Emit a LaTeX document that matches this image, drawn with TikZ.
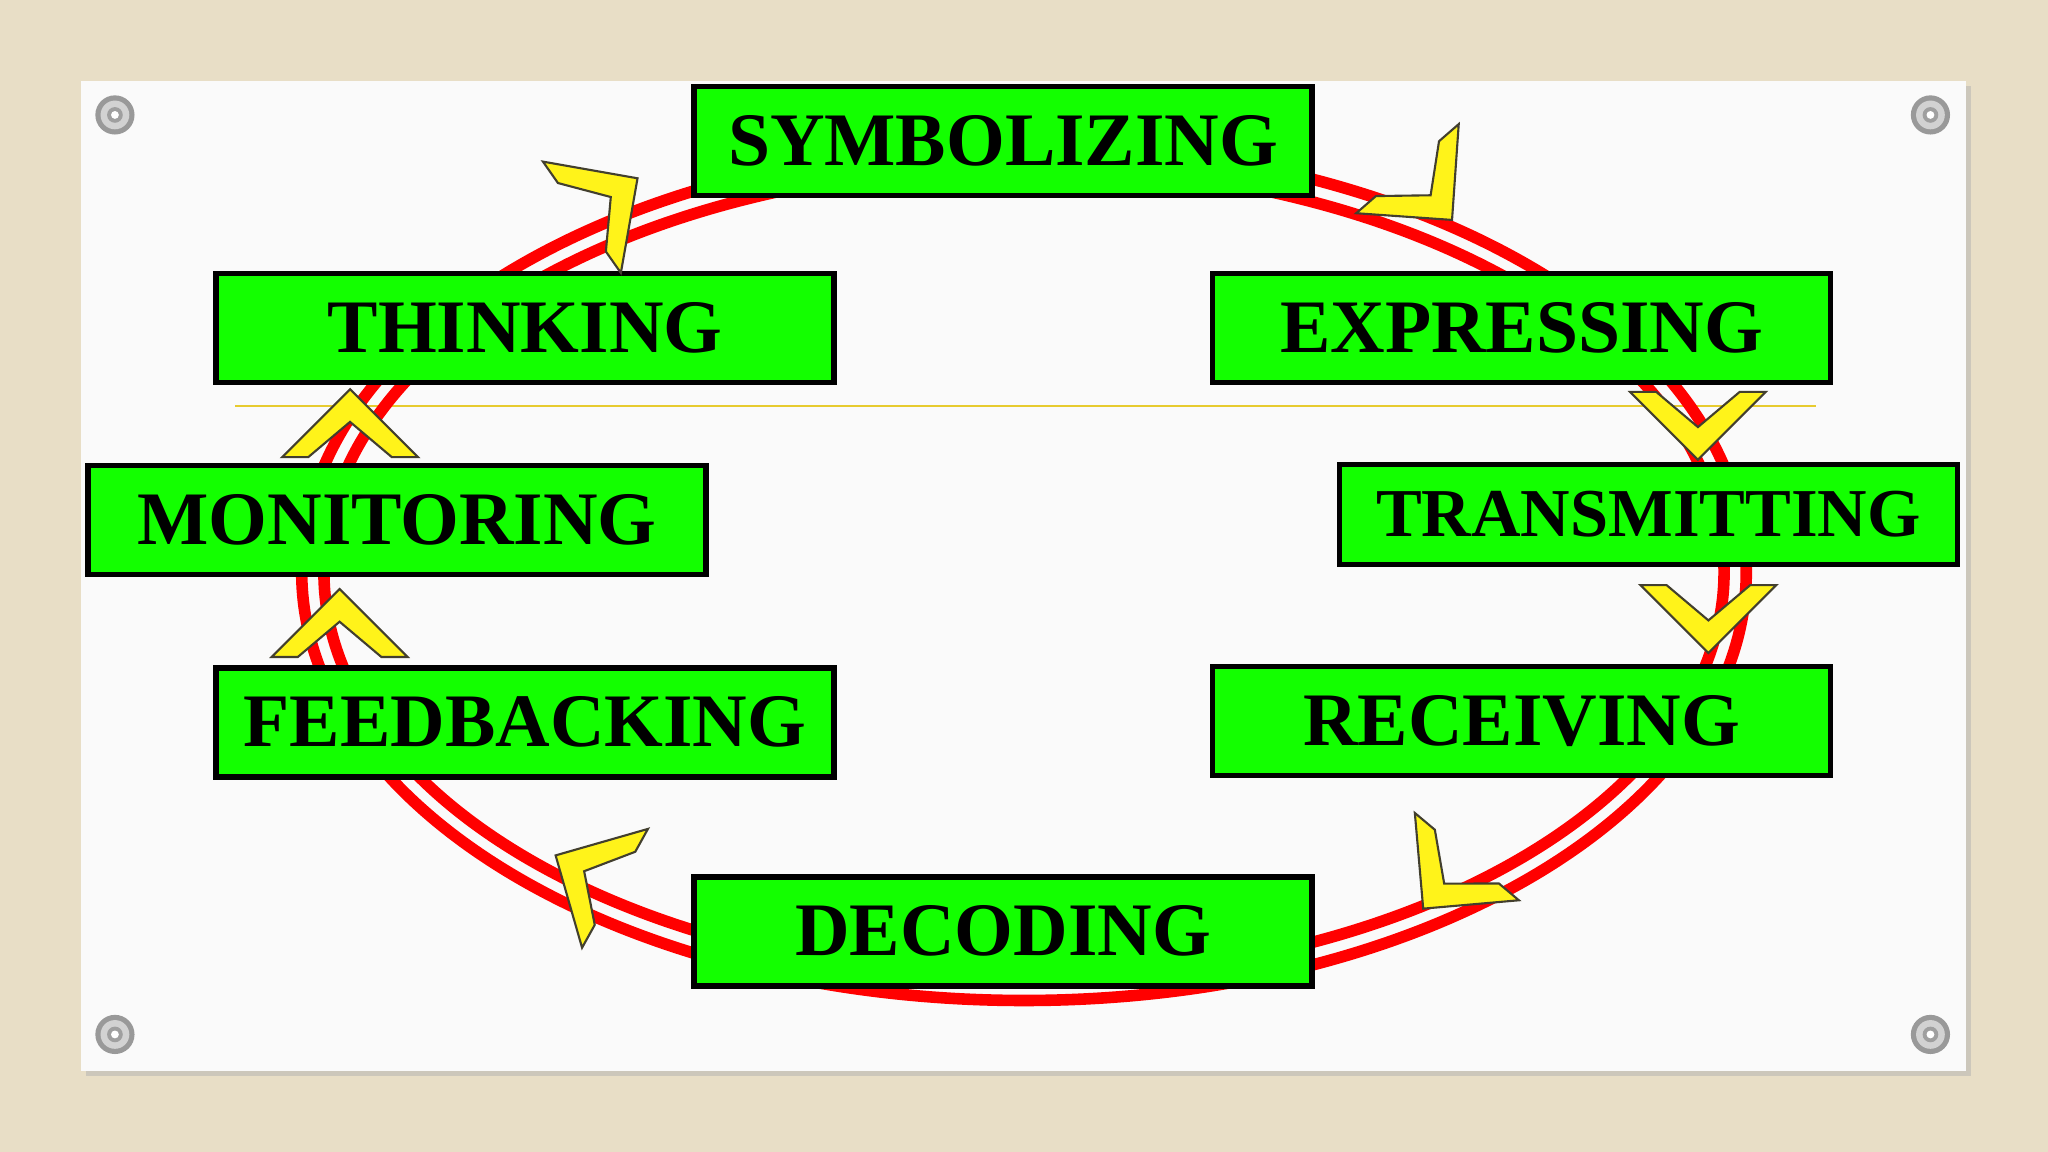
\documentclass[tikz,border=0pt]{standalone}
\usepackage{fontspec}
\setmainfont{Liberation Serif}
\definecolor{canvas}{HTML}{E8DEC6}
\begin{document}
\begin{tikzpicture}[x=0.013061cm,y=-0.013061cm,
  box/.style={draw=black,line width=1.6pt,fill=green!90!lime,minimum width=6.18cm,minimum height=1.09cm,inner sep=0pt,font=\fontsize{21.5}{25}\selectfont\bfseries},
  chevst/.style={draw=black!70!olive,line width=0.6pt,fill=yellow!90!white},
  chev/.pic={\draw[chevst] (27,0)--(-25,-52)--(-25,-32)--(2,0)--(-25,32)--(-25,52)--cycle;},
  screw/.pic={\fill[gray!80] (0,0) circle (15);\fill[gray!35] (0,0) circle (11);\fill[gray!75] (0,0) circle (6);\fill[white] (0,0) circle (3);}]
\useasboundingbox (0,0) rectangle (1568,882);
\fill[canvas] (0,0) rectangle (1568,882);
\fill[black!30,opacity=0.5] (66,66) rectangle (1509,824);
\fill[white!96!gray] (62,62) rectangle (1505,820);
\foreach \p in {(88,88),(1478,88),(88,792),(1478,792)} \pic at \p {screw};
\draw[yellow!60!brown,line width=0.5pt] (180,311) -- (1390,311);
\draw[red,line width=3.3pt] (784,438) ellipse [x radius=553,y radius=328];
\draw[red,line width=3.3pt] (784,438) ellipse [x radius=536,y radius=311];
\node[box] (sym) at (768,108) {SYMBOLIZING};
\node[box] (thi) at (402,251) {THINKING};
\node[box] (exp) at (1165,251) {EXPRESSING};
\node[box] (mon) at (304,398) {MONITORING};
\node[box,minimum height=1.0cm,font=\fontsize{19.5}{23}\selectfont\bfseries] (tra) at (1262,394) {TRANSMITTING};
\node[box] (fee) at (402,553) {FEEDBACKING};
\node[box] (rec) at (1165,552) {RECEIVING};
\node[box] (dec) at (768,713) {DECODING};
\pic[rotate=35] at (466,152) {chev};
\pic[rotate=-49] at (1094,148) {chev};
\pic[rotate=-90] at (1300,325) {chev};
\pic[rotate=-90] at (1308,473) {chev};
\pic[rotate=-130] at (1107,675) {chev};
\pic[rotate=151] at (449,668) {chev};
\pic[rotate=90] at (268,325) {chev};
\pic[rotate=90] at (260,478) {chev};
\end{tikzpicture}
\end{document}
